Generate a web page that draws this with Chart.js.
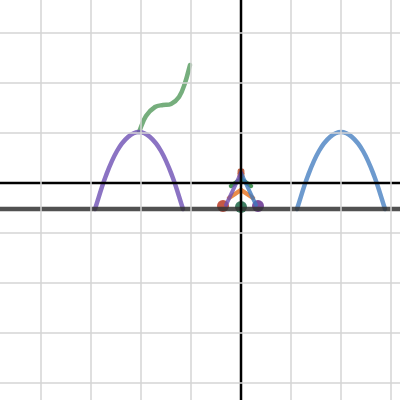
<!DOCTYPE html><html><head><style>html,body{margin:0;padding:0;background:#fff}</style>
<script src="https://cdn.jsdelivr.net/npm/chart.js@4"></script></head><body>
<canvas id="c" width="400" height="400"></canvas>
<script>
const gridX=[-4,-3,-2,-1,1,2,3];
const gridY=[-4,-3,-2,-1,1,2,3];
const purpleX=[-2.92,-2.70,-2.48,-2.26,-2.04,-1.82,-1.60,-1.38,-1.16];
const blueX=[1.12,1.34,1.56,1.78,2.0,2.22,2.44,2.66,2.88];
const archY=[-0.52,0.15,0.64,0.92,1.02,0.92,0.64,0.15,-0.52];
const greenX=[-2.04,-1.90,-1.72,-1.56,-1.40,-1.24,-1.12,-1.02];
const greenY=[1.02,1.34,1.52,1.56,1.58,1.72,2.0,2.36];
const baseY=-0.52;
const treeDotsX=[-0.36,0,0.34];const treeDotsY=[-0.46,-0.48,-0.46];
const treeDotColors=['rgba(190,70,50,0.9)','rgba(40,110,80,0.9)','rgba(110,60,150,0.9)'];
const pts=(xs,ys)=>xs.map((x,i)=>({x,y:ys[i]}));
const line=(data,color,w,t=0)=>({data,borderColor:color,borderWidth:w,showLine:true,pointRadius:0,tension:t,fill:false,borderCapStyle:'round'});
const gridSets=[...gridX.map(g=>line(pts([g,g],[-5,4]),'#d4d4d4',1.5)),...gridY.map(g=>line(pts([-5,4],[g,g]),'#d4d4d4',1.5))];
new Chart(document.getElementById('c'),{type:'scatter',data:{datasets:[
 ...gridSets,
 line(pts([-5,4],[0,0]),'#000',2.5),
 line(pts([0,0],[-5,4]),'#000',2.5),
 line(pts([-5,4],[baseY,baseY]),'rgba(50,50,50,0.85)',4.5),
 line(pts(purpleX,archY),'rgba(110,80,180,0.8)',4.5,0.4),
 line(pts(blueX,archY),'rgba(60,120,190,0.75)',4.5,0.4),
 line(pts(greenX,greenY),'rgba(60,140,70,0.7)',4.5,0.4),
 line(pts([-0.3,0],[-0.44,0.2]),'rgba(110,80,180,0.8)',4),
 line(pts([0,0.3],[0.2,-0.44]),'rgba(60,120,190,0.8)',4),
 line(pts([-0.24,0,0.24],[-0.3,-0.14,-0.3]),'rgba(230,120,40,0.85)',4.5),
 line(pts([-0.2,0,0.2],[-0.06,0.08,-0.06]),'rgba(40,130,60,0.85)',4.5),
 {data:pts([0,0],[0.22,0.16]),pointRadius:4,pointStyle:'rectRounded',backgroundColor:'rgba(190,90,60,0.9)',borderWidth:0},
 {data:pts(treeDotsX,treeDotsY),pointRadius:6,backgroundColor:treeDotColors,borderWidth:0}
]},options:{responsive:false,animation:false,layout:{padding:0,autoPadding:false},plugins:{legend:{display:false},tooltip:{enabled:false}},
scales:{x:{type:'linear',display:false,min:-4.82,max:3.18},y:{type:'linear',display:false,min:-4.34,max:3.66}}}});
</script></body></html>
